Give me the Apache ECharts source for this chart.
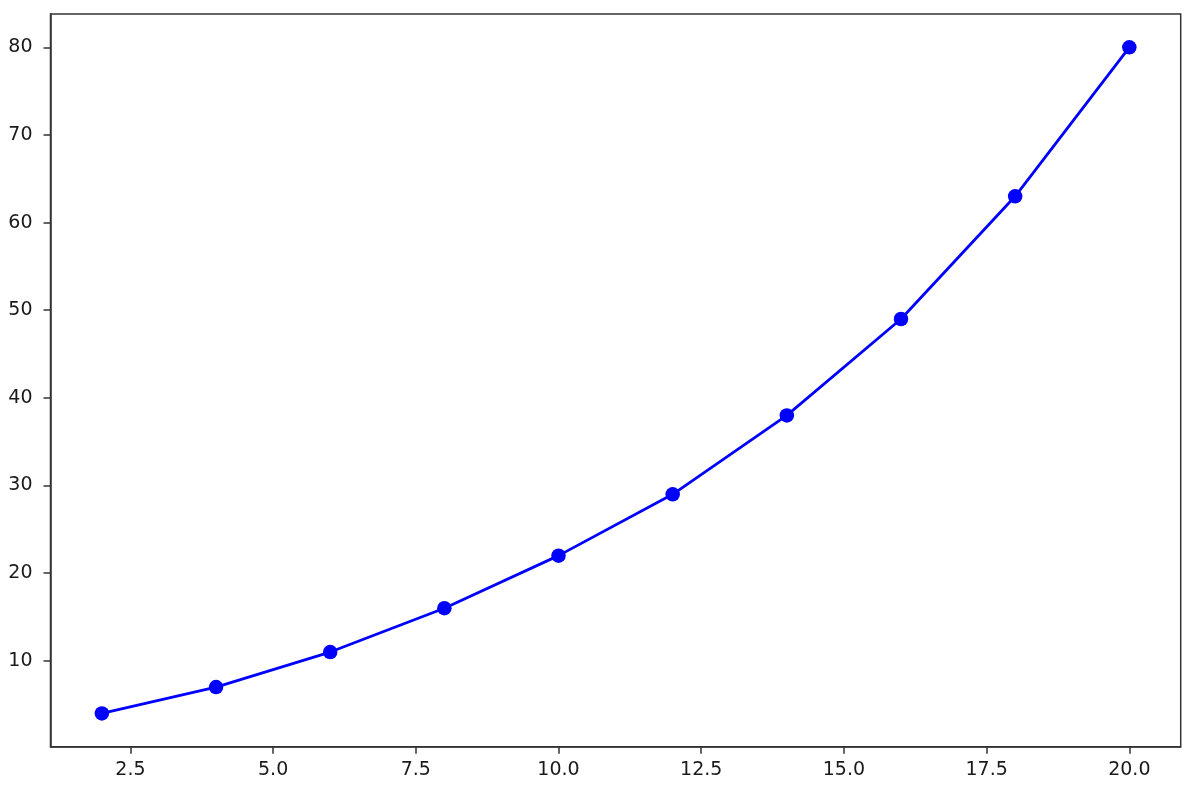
<!DOCTYPE html>
<html>
<head>
<meta charset="utf-8">
<script src="https://cdn.jsdelivr.net/npm/echarts@6/dist/echarts.min.js"></script>
<style>
html,body{margin:0;padding:0;background:#fff;}
#chart{width:1194px;height:799px;}
</style>
</head>
<body>
<div id="chart"></div>
<script>
const xValues = [2, 4, 6, 8, 10, 12, 14, 16, 18, 20];
const yValues = [4, 7, 11, 16, 22, 29, 38, 49, 63, 80];
const xTicks = [2.5, 5.0, 7.5, 10.0, 12.5, 15.0, 17.5, 20.0];
const yTicks = [10, 20, 30, 40, 50, 60, 70, 80];

const chart = echarts.init(document.getElementById('chart'), null, {renderer: 'canvas'});
const labelStyle = {color: '#1a1a1a', fontFamily: 'DejaVu Sans', fontSize: 19};
chart.setOption({
  animation: false,
  grid: {left: 50.5, right: 13.3, top: 14, bottom: 52.3, show: true, borderColor: '#333', borderWidth: 1.5, containLabel: false},
  xAxis: {
    type: 'value', min: 1.1, max: 20.9,
    axisLine: {show: true, onZero: false, lineStyle: {color: '#333', width: 1.5}},
    axisTick: {show: true, customValues: xTicks, length: 7, lineStyle: {color: '#333', width: 1.5}},
    axisLabel: Object.assign({show: true, customValues: xTicks, margin: 14, formatter: v => Number(v).toFixed(1)}, labelStyle),
    splitLine: {show: false}
  },
  yAxis: {
    type: 'value', min: 0.2, max: 83.8,
    axisLine: {show: true, onZero: false, lineStyle: {color: '#333', width: 1.5}},
    axisTick: {show: true, customValues: yTicks, length: 7, lineStyle: {color: '#333', width: 1.5}},
    axisLabel: Object.assign({show: true, customValues: yTicks, margin: 18, formatter: v => String(Math.round(v))}, labelStyle),
    splitLine: {show: false}
  },
  series: [{
    type: 'line',
    data: xValues.map((x, i) => [x, yValues[i]]),
    lineStyle: {color: '#0000ff', width: 2.8},
    itemStyle: {color: '#0000ff'},
    symbol: 'circle', symbolSize: 14.5,
    showSymbol: true
  }]
});
</script>
</body>
</html>
